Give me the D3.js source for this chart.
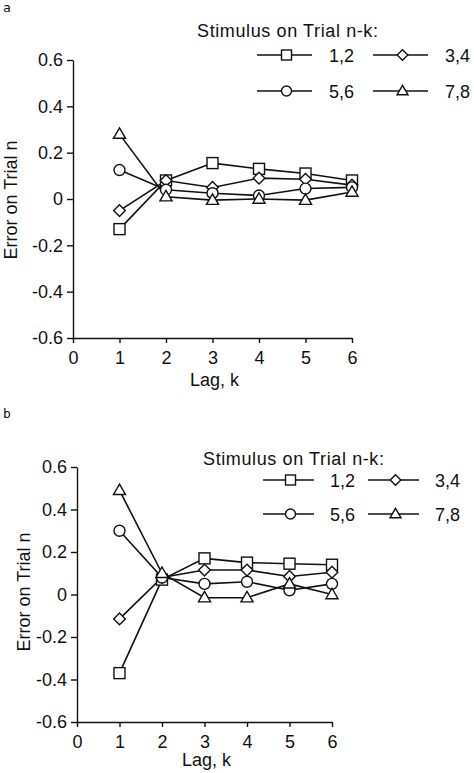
<!DOCTYPE html>
<html>
<head>
<style>
    body { margin: 0; background: #fff; }
    svg text { font-family: "Liberation Sans", Arial, sans-serif; fill: #111; }
    .tick text { font-size: 18px; }
    .axis-title { font-size: 18px; }
    .legend text { font-size: 18px; }
</style>
<script src="https://d3js.org/d3.v7.min.js"></script>
</head>
<body>

<svg width="474" height="773"></svg>

<script>
    // lags on the x axis
    var lags = [1, 2, 3, 4, 5, 6];
    var xTicks = [0, 1, 2, 3, 4, 5, 6];
    var yTicks = [-0.6, -0.4, -0.2, 0, 0.2, 0.4, 0.6];
    var seriesLabels = ["1,2", "3,4", "5,6", "7,8"];
    var seriesSymbols = ["square", "diamond", "circle", "triangle"];

    // panel a
    var errA12 = [-0.13, 0.08, 0.155, 0.13, 0.11, 0.08];
    var errA34 = [-0.05, 0.08, 0.05, 0.09, 0.085, 0.06];
    var errA56 = [0.125, 0.04, 0.025, 0.015, 0.045, 0.05];
    var errA78 = [0.28, 0.01, -0.005, 0.0, -0.005, 0.03];

    // panel b
    var errB12 = [-0.37, 0.07, 0.17, 0.15, 0.145, 0.14];
    var errB34 = [-0.115, 0.08, 0.115, 0.115, 0.085, 0.105];
    var errB56 = [0.30, 0.08, 0.05, 0.06, 0.02, 0.05];
    var errB78 = [0.49, 0.10, -0.015, -0.015, 0.05, 0.0];

    var svg = d3.select('svg');

    function marker(g, type, s) {
        if (type === 'square') {
            g.append('rect').attr('x', -s / 2).attr('y', -s / 2).attr('width', s).attr('height', s);
        } else if (type === 'circle') {
            g.append('circle').attr('r', s / 2);
        } else if (type === 'diamond') {
            var d = s * 0.53;
            g.append('path').attr('d', 'M0,' + (-d) + 'L' + d + ',0L0,' + d + 'L' + (-d) + ',0Z');
        } else {
            var h = s * 0.95;
            g.append('path').attr('d', 'M0,' + (-h * 0.6) + 'L' + (s * 0.55) + ',' + (h * 0.4) + 'L' + (-s * 0.55) + ',' + (h * 0.4) + 'Z');
        }
        g.selectAll('*').attr('fill', '#fff').attr('stroke', '#111').attr('stroke-width', 1.4);
    }

    function panel(cfg) {
        var x = d3.scaleLinear().domain([0, 6]).range([cfg.left, cfg.right]);
        var y = d3.scaleLinear().domain([-0.6, 0.6]).range([cfg.bottom, cfg.top]);

        svg.append('text').attr('x', cfg.letterX).attr('y', cfg.letterY)
            .style('font-family', 'DejaVu Sans Mono, monospace').style('font-size', '13px').text(cfg.letter);

        svg.append('g').attr('transform', 'translate(' + cfg.left + ',0)')
            .call(d3.axisLeft(y).tickValues(yTicks).tickSize(6).tickSizeOuter(0).tickPadding(4)
                .tickFormat(function (d) { return d === 0 ? '0' : d.toFixed(1); }))
            .call(function (g) { g.selectAll('path,line').attr('stroke', '#111').attr('stroke-width', 1.4); });

        svg.append('g').attr('transform', 'translate(0,' + cfg.bottom + ')')
            .call(d3.axisBottom(x).tickValues(xTicks).tickSize(5).tickSizeOuter(0).tickPadding(8)
                .tickFormat(d3.format('d')))
            .call(function (g) { g.selectAll('path,line').attr('stroke', '#111').attr('stroke-width', 1.4); });

        svg.append('text').attr('class', 'axis-title')
            .attr('x', (cfg.left + cfg.right) / 2 + 2).attr('y', cfg.bottom + cfg.xtOff)
            .attr('text-anchor', 'middle').text('Lag, k');
        svg.append('text').attr('class', 'axis-title')
            .attr('transform', 'translate(' + cfg.ytX + ',' + cfg.ytY + ') rotate(-90)')
            .attr('text-anchor', 'middle').text('Error on Trial n');

        var line = d3.line().x(function (d, i) { return x(lags[i]); }).y(function (d) { return y(d); });
        cfg.series.forEach(function (vals) {
            svg.append('path').datum(vals).attr('d', line)
                .attr('fill', 'none').attr('stroke', '#111').attr('stroke-width', 1.6);
        });
        cfg.series.forEach(function (vals, si) {
            svg.append('g').selectAll('g').data(vals).enter().append('g')
                .attr('transform', function (d, i) { return 'translate(' + x(lags[i]) + ',' + y(d) + ')'; })
                .each(function () { marker(d3.select(this), seriesSymbols[si], 11); });
        });

        // legend
        var lg = svg.append('g').attr('class', 'legend');
        lg.append('text').attr('x', cfg.legX).attr('y', cfg.legY)
            .attr('textLength', 181).text('Stimulus on Trial n-k:');
        seriesLabels.forEach(function (lab, i) {
            var col = i % 2, row = Math.floor(i / 2);
            var x0 = cfg.legCols[col], yy = cfg.legRows[row];
            lg.append('line').attr('x1', x0).attr('x2', x0 + cfg.legLine).attr('y1', yy).attr('y2', yy)
                .attr('stroke', '#111').attr('stroke-width', 1.4);
            var m = lg.append('g').attr('transform', 'translate(' + (x0 + cfg.legLine / 2 + 2) + ',' + yy + ')');
            marker(m, seriesSymbols[i], 10);
            lg.append('text').attr('x', x0 + cfg.legLab).attr('y', yy + 6.5).text(lab);
        });
    }

    panel({
        letter: 'a', letterX: 3, letterY: 12,
        left: 73, right: 352, top: 60, bottom: 338, xtOff: 48,
        ytX: 17, ytY: 200,
        legX: 197, legY: 37, legCols: [257, 373], legRows: [55, 91], legLine: 55, legLab: 72,
        series: [errA12, errA34, errA56, errA78]
    });
    panel({
        letter: 'b', letterX: 3, letterY: 418,
        left: 77, right: 332, top: 467, bottom: 722, xtOff: 44,
        ytX: 30, ytY: 592,
        legX: 203, legY: 465, legCols: [263, 368], legRows: [480, 514], legLine: 51, legLab: 67,
        series: [errB12, errB34, errB56, errB78]
    });
</script>
</body>
</html>
